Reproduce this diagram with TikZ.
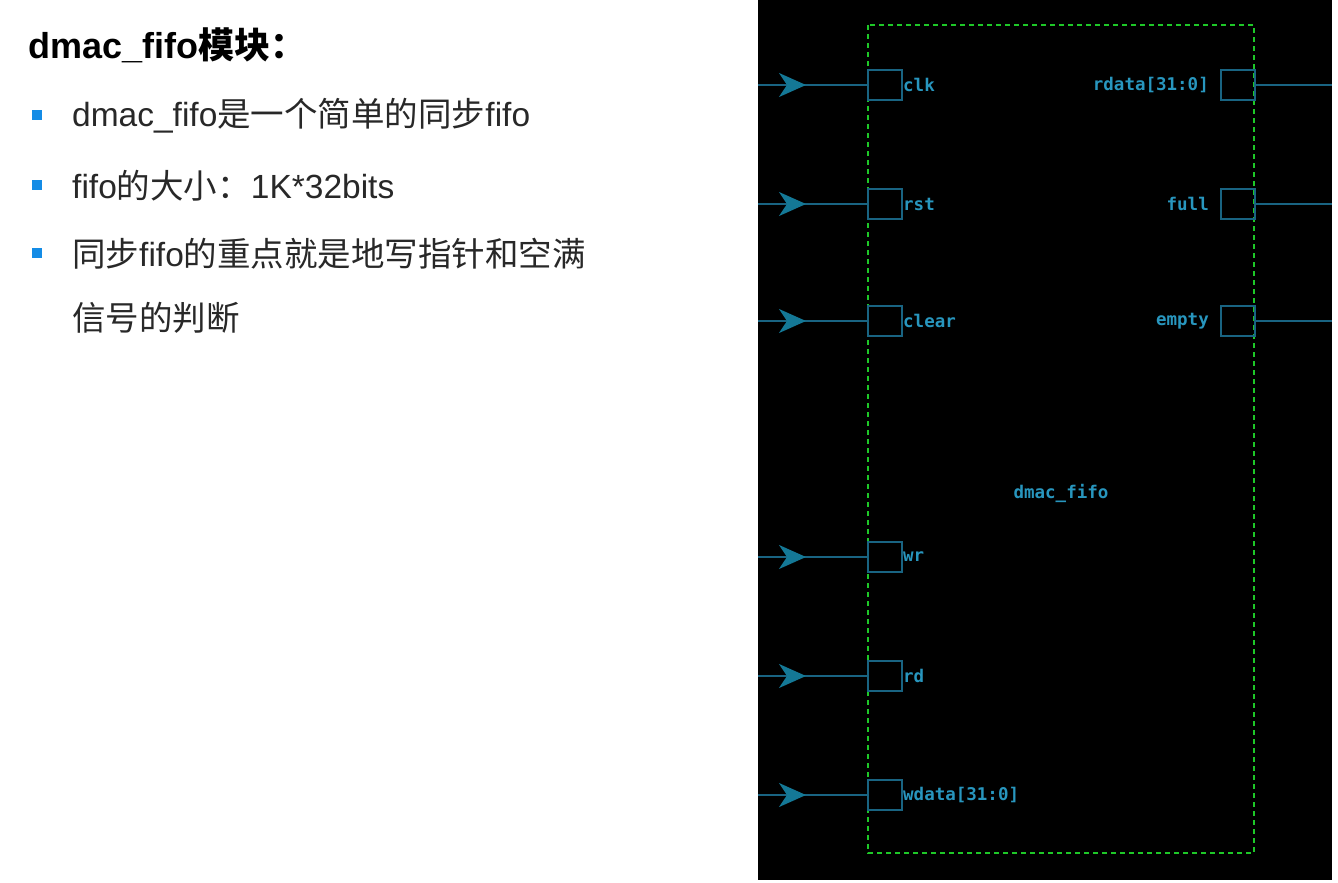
\documentclass[tikz,border=0pt]{standalone}
\usepackage{fontspec}
\setmainfont{Liberation Sans}
\newfontfamily\cjk{Noto Sans CJK SC}
\newfontfamily\mono{DejaVu Sans Mono}
\usetikzlibrary{arrows.meta}
\definecolor{lbl}{RGB}{40,150,190}
\definecolor{wire}{RGB}{25,100,130}
\definecolor{tipc}{RGB}{20,120,150}
\definecolor{grn}{RGB}{30,200,40}
\definecolor{txt}{RGB}{40,40,40}
\definecolor{bul}{RGB}{20,140,230}
\begin{document}
\begin{tikzpicture}[x=1pt,y=-1pt,
  lbl/.style={font=\mono\bfseries\fontsize{17.5}{17.5}\selectfont,text=lbl,inner sep=0pt},
  port/.style={draw=wire,line width=1.3pt,minimum width=34pt,minimum height=30pt,inner sep=0pt},
  wirel/.style={draw=wire,line width=1.8pt},
  tip/.style={-{Stealth[length=27pt,width=24pt,inset=8pt,fill=tipc,color=tipc]}},
  body/.style={font=\fontsize{33.5}{33.5}\selectfont,text=txt,anchor=west,inner sep=0pt},
  bullet/.style={fill=bul,minimum size=10pt,inner sep=0pt}]
\useasboundingbox (0,0) rectangle (1338,883);
\fill[white] (0,0) rectangle (1338,883);
\fill[black] (758,0) rectangle (1332,880);
\node[body,font=\bfseries\fontsize{36}{36}\selectfont,text=black] (title) at (28,45) {dmac\_fifo{\cjk\bfseries 模块：}};
\node[bullet] (b1) at (37,115) {};
\node[bullet] (b2) at (37,185) {};
\node[bullet] (b3) at (37,253) {};
\node[body] (t1) at (72,116) {dmac\_fifo{\cjk 是一个简单的同步}fifo};
\node[body] (t2) at (72,186) {fifo{\cjk 的大小：}1K*32bits};
\node[body] (t3) at (72,254) {{\cjk 同步}fifo{\cjk 的重点就是地写指针和空满}};
\node[body] (t4) at (72,318) {{\cjk 信号的判断}};
\draw[grn,line width=2.2pt,dash pattern=on 5pt off 4pt] (868,25) rectangle (1254,853);
\node[lbl] (name) at (1061,493) {dmac\_fifo};
\foreach \y/\t/\n in {85/clk/a,204/rst/b,321/clear/c,557/wr/d,676/rd/e,795/wdata[31:0]/f}{
  \node[port] (p\n) at (885,\y) {};
  \node[lbl,anchor=west] (l\n) at (903,\y) {\t};
  \coordinate (s\n) at (758,\y);
  \coordinate (m\n) at (806,\y);
  \draw[wirel] (s\n) -- (p\n.west);
  \draw[wirel,tip] (s\n) -- (m\n);
}
\foreach \y/\t/\n in {85/rdata[31:0]/g,204/full/h,321/empty/i}{
  \node[port] (p\n) at (1238,\y) {};
  \node[lbl,anchor=east] (l\n) at (1209,\y) {\t};
  \coordinate (e\n) at (1332,\y);
  \draw[wirel] (p\n.east) -- (e\n);
}
\end{tikzpicture}
\end{document}
